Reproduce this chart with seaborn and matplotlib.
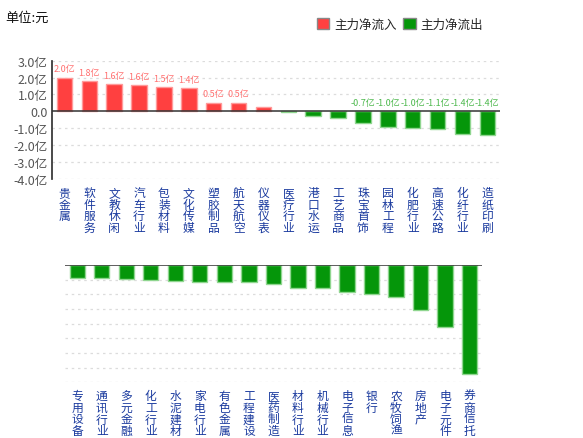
"""Sector main-force net flow chart (two panels of stacked bar rows)."""

import matplotlib.pyplot as plt
import pandas as pd
import seaborn as sns

INFLOW = "主力净流入"
OUTFLOW = "主力净流出"

TOP_SECTORS = [
    "贵金属", "软件服务", "文教休闲", "汽车行业", "包装材料", "文化传媒",
    "塑胶制品", "航天航空", "仪器仪表", "医疗行业", "港口水运", "工艺商品",
    "珠宝首饰", "园林工程", "化肥行业", "高速公路", "化纤行业", "造纸印刷",
]
TOP_VALUES = [
    2.0, 1.8, 1.6, 1.55, 1.45, 1.4, 0.52, 0.52, 0.27, -0.03, -0.29, -0.37,
    -0.66, -0.92, -0.98, -1.05, -1.35, -1.4,
]
TOP_LABELS = [
    "2.0亿", "1.8亿", "1.6亿", "1.6亿", "1.5亿", "1.4亿", "0.5亿", "0.5亿",
    "", "", "", "", "-0.7亿", "-1.0亿", "-1.0亿", "-1.1亿", "-1.4亿", "-1.4亿",
]
TOP_TICKS = [3, 2, 1, 0, -1, -2, -3, -4]
TOP_TICK_LABELS = ["3.0亿", "2.0亿", "1.0亿", "0.0", "-1.0亿", "-2.0亿", "-3.0亿", "-4.0亿"]

BOTTOM_SECTORS = [
    "专用设备", "通讯行业", "多元金融", "化工行业", "水泥建材", "家电行业",
    "有色金属", "工程建设", "医药制造", "材料行业", "机械行业", "电子信息",
    "银行", "农牧饲渔", "房地产", "电子元件", "券商信托",
]
BOTTOM_VALUES = [
    -1.77, -1.82, -1.87, -2.0, -2.22, -2.28, -2.32, -2.32, -2.63, -3.1,
    -3.18, -3.72, -4.0, -4.37, -6.14, -8.46, -14.87,
]
BOTTOM_TICKS = [0, -2, -4, -6, -8, -10, -12, -14, -16]

RED = "#ff4040"
GREEN = "#05960a"
RED_EDGE = "#ff9a9a"
GREEN_EDGE = "#8fd68f"
LABEL_BLUE = "#1a3a9e"

sns.set_theme(style="white")
plt.rcParams["font.family"] = ["Noto Sans CJK SC", "DejaVu Sans"]


def _vertical(text: str) -> str:
    return "\n".join(text)


def _style_axis(ax, ticks, sectors):
    for y in ticks:
        if y != 0:
            ax.axhline(y, color="#dcdcdc", lw=0.9, ls=(0, (2, 3)), zorder=0)
    ax.axhline(0, color="#333333", lw=1.1, zorder=3)
    for side in ["top", "right", "bottom"]:
        ax.spines[side].set_visible(False)
    ax.set_xlabel("")
    ax.set_ylabel("")
    ax.set_xticks(range(len(sectors)))
    ax.set_xticklabels([_vertical(s) for s in sectors], color=LABEL_BLUE,
                       fontsize=8.5, linespacing=0.86, va="top")
    ax.tick_params(axis="x", length=0, pad=5)
    ax.set_xlim(-0.5, len(sectors) - 0.5)
    for p in ax.patches:
        fc = p.get_facecolor()
        edge = RED_EDGE if fc[0] > 0.9 else GREEN_EDGE
        p.set_edgecolor(edge)
        p.set_linewidth(1.0)


fig = plt.figure(figsize=(5.83, 4.39), dpi=100)

# top panel
top_df = pd.DataFrame({
    "sector": TOP_SECTORS,
    "value": TOP_VALUES,
    "flow": [INFLOW if v > 0 else OUTFLOW for v in TOP_VALUES],
})
ax1 = fig.add_axes([0.0892, 0.59, 0.768, 0.2695])
sns.barplot(data=top_df, x="sector", y="value", hue="flow", order=TOP_SECTORS,
            hue_order=[INFLOW, OUTFLOW], palette=[RED, GREEN], dodge=False,
            width=0.62, saturation=1, ax=ax1)
ax1.set_ylim(-4, 3)
ax1.set_yticks(TOP_TICKS)
ax1.set_yticklabels(TOP_TICK_LABELS, color="#555555", fontsize=9)
ax1.tick_params(axis="y", length=0, pad=3)
ax1.spines["left"].set_color("#333333")
_style_axis(ax1, TOP_TICKS, TOP_SECTORS)

for i, (v, lab) in enumerate(zip(TOP_VALUES, TOP_LABELS)):
    if not lab:
        continue
    color = "#ff7070" if v > 0 else "#4cb84c"
    ax1.annotate(lab, (i, max(v, 0)), xytext=(0, 3), textcoords="offset points",
                 ha="center", va="bottom", fontsize=6.5, color=color)

sns.move_legend(ax1, loc="center", bbox_to_anchor=(0.777, 1.31), ncol=2,
                frameon=False, title=None, fontsize=9, handlelength=1.0,
                handleheight=1.0, handletextpad=0.4, columnspacing=0.5)
for h in ax1.get_legend().legend_handles:
    h.set_edgecolor("#888888")
    h.set_linewidth(1.0)

# bottom panel
bottom_df = pd.DataFrame({"sector": BOTTOM_SECTORS, "value": BOTTOM_VALUES})
ax2 = fig.add_axes([0.1115, 0.1269, 0.715, 0.267])
sns.barplot(data=bottom_df, x="sector", y="value", order=BOTTOM_SECTORS,
            color=GREEN, width=0.62, saturation=1, ax=ax2)
ax2.set_ylim(-16, 0)
ax2.set_yticks([])
ax2.spines["left"].set_visible(False)
_style_axis(ax2, BOTTOM_TICKS, BOTTOM_SECTORS)

fig.text(0.009, 0.958, "单位:元", fontsize=9.5, color="#111111", va="center")

fig.savefig("out.png", dpi=100)
